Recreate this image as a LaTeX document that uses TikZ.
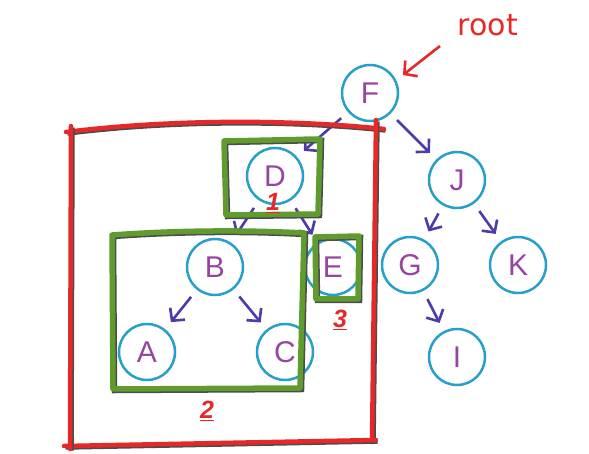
\documentclass[tikz,border=0pt]{standalone}
\usepackage{fontspec}
\setmainfont{Liberation Sans}
\newfontfamily\rootfont{DejaVu Sans}
\usepackage{tikz}
\usetikzlibrary{arrows.meta}
\definecolor{ring}{RGB}{38, 160, 200}
\definecolor{lett}{RGB}{150, 70, 160}
\definecolor{arr}{RGB}{75, 60, 170}
\definecolor{grn}{RGB}{95, 155, 45}
\definecolor{rd}{RGB}{230, 40, 40}

\begin{document}
\begin{tikzpicture}[
  vert/.style={circle, minimum size=56pt, inner sep=0pt, line width=2.5pt, draw=ring, text=lett, font=\fontsize{30}{30}\selectfont},
  edge/.style={line width=2.6pt, color=arr, -{Straight Barb[length=9pt,width=19pt,line width=2.6pt]}, shorten <=9pt, shorten >=9pt},
  gbox/.style={line width=5.5pt, color=grn, line join=round, preaction={draw=black!70, line width=5.5pt, transform canvas={shift={(1.5pt,-1.5pt)}}}},
  rbox/.style={line width=4.5pt, color=rd, line cap=round, preaction={draw=black!70, line width=4.5pt, transform canvas={shift={(1.5pt,-1.5pt)}}}},
  num/.style={text=rd, font=\fontsize{25}{25}\selectfont\bfseries\itshape}]
\useasboundingbox (0pt,0pt) rectangle (589pt,-454pt);
\node (F) [vert] at (370pt, -93pt) {F};
\node (D) [vert] at (275pt, -176pt) {D};
\node (J) [vert] at (457pt, -180pt) {J};
\node (B) [vert] at (215pt, -267pt) {B};
\node (E) [vert] at (333pt, -267pt) {E};
\node (G) [vert] at (410pt, -265pt) {G};
\node (K) [vert] at (518pt, -265pt) {K};
\node (A) [vert] at (147pt, -352pt) {A};
\node (C) [vert] at (285pt, -352pt) {C};
\node (I) [vert] at (457pt, -357pt) {I};
\draw [edge] (F) to (D);
\draw [edge] (F) to (J);
\draw [edge] (D) to (B);
\draw [edge] (D) to (E);
\draw [edge] (J) to (G);
\draw [edge] (J) to (K);
\draw [edge] (B) to (A);
\draw [edge] (B) to (C);
\draw [edge] (G) to (I);
% boxes
\draw [rbox] (66pt, -132pt) .. controls (180pt, -118pt) and (300pt, -120pt) .. (384pt, -129pt);
\draw [rbox] (376pt, -120pt) -- (372pt, -442pt);
\draw [rbox] (376pt, -440pt) -- (64pt, -446pt);
\draw [rbox] (71pt, -126pt) -- (70pt, -449pt);
\draw [gbox] (224pt, -141pt) -- (320pt, -139pt) -- (318pt, -214pt) -- (226pt, -215pt) -- cycle;
\draw [gbox] (112pt, -235pt) .. controls (180pt, -230pt) and (250pt, -230pt) .. (304pt, -233pt) -- (300pt, -388pt) -- (113pt, -389pt) -- cycle;
\draw [gbox] (315pt, -237pt) -- (359pt, -236pt) -- (358pt, -299pt) -- (316pt, -299pt) -- cycle;
% labels
\node (n1) [num] at (273pt, -203pt) {\underline{1}};
\node (n2) [num] at (207pt, -411pt) {\underline{2}};
\node (n3) [num] at (340pt, -320pt) {\underline{3}};
\node (root) [text=rd, font=\rootfont\fontsize{30}{30}\selectfont] at (488pt, -25pt) {root};
\coordinate (tip) at (403pt, -75pt);
\draw [line width=2.6pt, color=rd, -{Straight Barb[length=9pt,width=20pt,line width=2.6pt]}] (440pt, -46pt) -- (tip);
\end{tikzpicture}
\end{document}
